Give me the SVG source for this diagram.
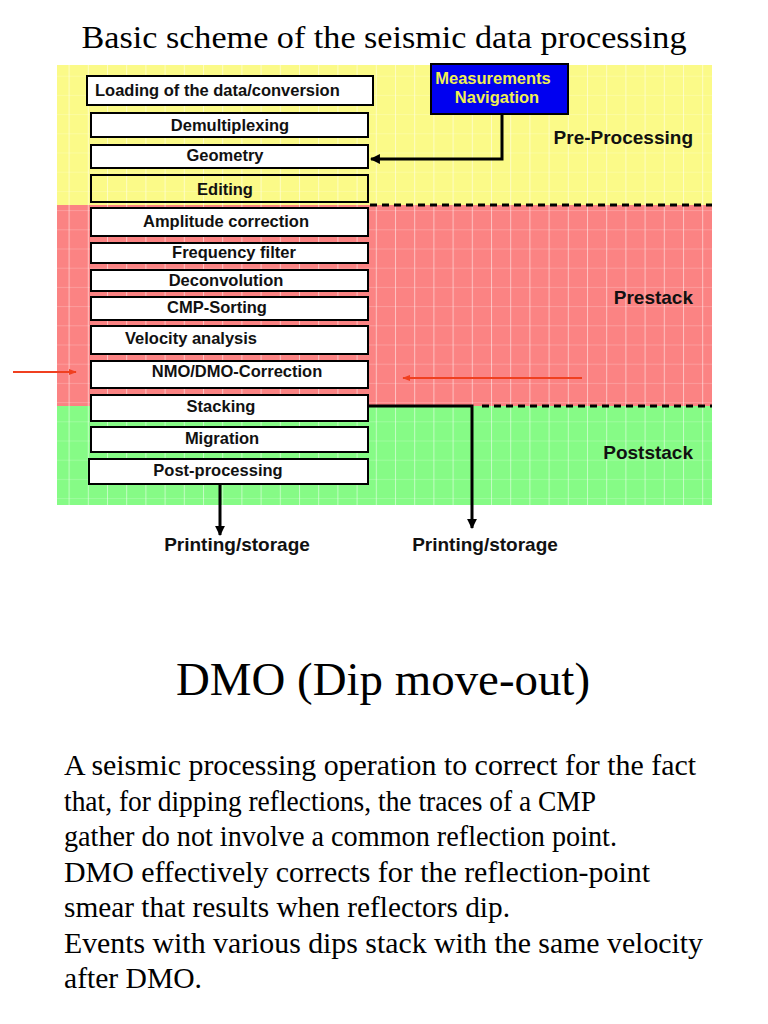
<svg xmlns="http://www.w3.org/2000/svg" width="768" height="1024" viewBox="0 0 768 1024">
<defs>
<pattern id="grid" x="395" y="229.3" width="19.2" height="19.2" patternUnits="userSpaceOnUse">
<line x1="0.5" y1="0" x2="0.5" y2="19.2" stroke="#ffffff" stroke-opacity="0.5" stroke-width="1"/>
<line x1="0" y1="0.5" x2="19.2" y2="0.5" stroke="#ffffff" stroke-opacity="0.2" stroke-width="1"/>
</pattern>
<marker id="ah" viewBox="0 0 10 10" refX="9" refY="5" markerWidth="3.3" markerHeight="4" orient="auto" markerUnits="strokeWidth">
<path d="M0,0 L10,5 L0,10 Z" fill="#000"/>
</marker>
<marker id="ahr" viewBox="0 0 10 10" refX="9" refY="5" markerWidth="4" markerHeight="4" orient="auto" markerUnits="strokeWidth">
<path d="M0,1 L10,5 L0,9 Z" fill="#f04020"/>
</marker>
<style>
.box{fill:#ffffff;stroke:#000;stroke-width:2}
.lbl{font-family:"Liberation Sans",Arial,sans-serif;font-weight:bold;font-size:16.5px;fill:#111}
.sec{font-family:"Liberation Sans",Arial,sans-serif;font-weight:bold;font-size:19px;fill:#111}
.serif{font-family:"Liberation Serif","Times New Roman",serif;fill:#000}
.conn{fill:none;stroke:#000;stroke-width:3}
.dash{fill:none;stroke:#000;stroke-width:3;stroke-dasharray:7,5}
.red{fill:none;stroke:#f04020;stroke-width:2}
</style>
</defs>
<rect width="768" height="1024" fill="#ffffff"/>
<text class="serif" x="384" y="48" font-size="32" text-anchor="middle" textLength="605" lengthAdjust="spacingAndGlyphs">Basic scheme of the seismic data processing</text>
<g id="zones">
<rect x="57" y="65" width="655" height="140" fill="#fbfa88"/>
<rect x="57" y="205" width="655" height="201" fill="#fb8383"/>
<rect x="57" y="406" width="655" height="99" fill="#86fb86"/>
<rect x="57" y="65" width="655" height="440" fill="url(#grid)"/>
<text class="sec" x="693" y="144" text-anchor="end">Pre-Processing</text>
<text class="sec" x="693" y="304" text-anchor="end">Prestack</text>
<text class="sec" x="693" y="459" text-anchor="end">Poststack</text>
</g>
<g id="n-loading"><rect class="box" x="87" y="76" width="286" height="29"/><text class="lbl" x="95" y="96">Loading of the data/conversion</text></g>
<g id="n-demux"><rect class="box" x="91" y="113" width="277" height="24"/><text class="lbl" x="230" y="131" text-anchor="middle">Demultiplexing</text></g>
<g id="n-geometry"><rect class="box" x="91" y="145" width="277" height="23"/><text class="lbl" x="225" y="161" text-anchor="middle">Geometry</text></g>
<g id="n-editing"><rect x="91" y="175" width="277" height="27" fill="none" stroke="#000" stroke-width="2"/><text class="lbl" x="225" y="195" text-anchor="middle">Editing</text></g>
<g id="n-amplitude"><rect class="box" x="91" y="208" width="277" height="28"/><text class="lbl" x="226" y="227" text-anchor="middle">Amplitude correction</text></g>
<g id="n-frequency"><rect class="box" x="91" y="243" width="277" height="20"/><text class="lbl" x="234" y="258" text-anchor="middle">Frequency filter</text></g>
<g id="n-decon"><rect class="box" x="91" y="270" width="277" height="21"/><text class="lbl" x="226" y="286" text-anchor="middle">Deconvolution</text></g>
<g id="n-cmp"><rect class="box" x="91" y="297" width="277" height="23"/><text class="lbl" x="217" y="313" text-anchor="middle">CMP-Sorting</text></g>
<g id="n-velocity"><rect class="box" x="91" y="326" width="277" height="28"/><text class="lbl" x="191" y="344" text-anchor="middle">Velocity analysis</text></g>
<g id="n-nmo"><rect class="box" x="91" y="361" width="277" height="27"/><text class="lbl" x="237" y="377" text-anchor="middle">NMO/DMO-Correction</text></g>
<g id="n-stacking"><rect class="box" x="91" y="395" width="277" height="26"/><text class="lbl" x="221" y="412" text-anchor="middle">Stacking</text></g>
<g id="n-migration"><rect class="box" x="91" y="427" width="277" height="25"/><text class="lbl" x="222" y="444" text-anchor="middle">Migration</text></g>
<g id="n-post"><rect class="box" x="89" y="459" width="279" height="25"/><text class="lbl" x="218" y="476" text-anchor="middle">Post-processing</text></g>
<g id="n-measure"><rect x="431" y="64" width="137" height="50" fill="#0000f0" stroke="#000" stroke-width="2"/><text class="lbl" x="493" y="84" text-anchor="middle" style="fill:#f0f050">Measurements</text><text class="lbl" x="497" y="103" text-anchor="middle" style="fill:#f0f050">Navigation</text></g>
<g id="n-print1"><text class="sec" x="237" y="551" text-anchor="middle" font-size="18">Printing/storage</text></g>
<g id="n-print2"><text class="sec" x="485" y="551" text-anchor="middle" font-size="18">Printing/storage</text></g>
<g id="connectors">
<path class="dash" d="M370 205 H712"/>
<path class="dash" d="M482 406 H712"/>
<path class="conn" d="M502 114 V159 H371" marker-end="url(#ah)"/>
<path class="conn" d="M368 406 H472 V528" marker-end="url(#ah)"/>
<path class="conn" d="M220 484 V535" marker-end="url(#ah)"/>
<path class="red" d="M13 372 H76" marker-end="url(#ahr)"/>
<path class="red" d="M582 378 H403" marker-end="url(#ahr)"/>
</g>
<text class="serif" x="383" y="695" font-size="46" text-anchor="middle" textLength="414" lengthAdjust="spacingAndGlyphs">DMO (Dip move-out)</text>
<g class="serif" font-size="30">
<text x="64" y="775" textLength="632" lengthAdjust="spacingAndGlyphs">A seismic processing operation to correct for the fact</text>
<text x="64" y="811" textLength="532" lengthAdjust="spacingAndGlyphs">that, for dipping reflections, the traces of a CMP</text>
<text x="64" y="846" textLength="553" lengthAdjust="spacingAndGlyphs">gather do not involve a common reflection point.</text>
<text x="64" y="882" textLength="586" lengthAdjust="spacingAndGlyphs">DMO effectively corrects for the reflection-point</text>
<text x="64" y="917" textLength="446" lengthAdjust="spacingAndGlyphs">smear that results when reflectors dip.</text>
<text x="64" y="953" textLength="639" lengthAdjust="spacingAndGlyphs">Events with various dips stack with the same velocity</text>
<text x="64" y="988" textLength="138" lengthAdjust="spacingAndGlyphs">after DMO.</text>
</g>
</svg>
